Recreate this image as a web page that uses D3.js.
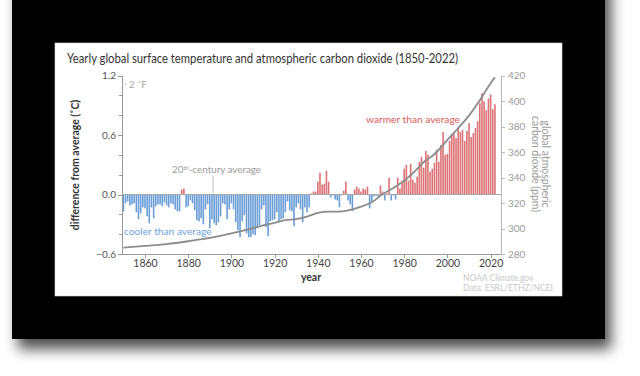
<!DOCTYPE html>
<html>
<head>
<meta charset="utf-8">
<script src="https://cdn.jsdelivr.net/npm/d3@7"></script>
<style>
  body { margin: 0; background: #fff; }
  svg { display: block; font-family: "Lato", "Open Sans", sans-serif; }
  .axis path, .axis line { stroke: #999; shape-rendering: crispEdges; }
  .axis text { font-family: "Lato", sans-serif; }
</style>
</head>
<body>
<div id="chart"></div>
<script>

// Years 1850-2022 (one bar each)
var years = d3.range(1850, 2023);

// Yearly temperature difference from 20th-century average (deg C)
var anomalies = [
  -0.17, -0.09, -0.07, -0.11, -0.10, -0.09, -0.18, -0.25, -0.19, -0.13,
  -0.14, -0.22, -0.29, -0.13, -0.24, -0.12, -0.10, -0.10, -0.12, -0.08,
  -0.11, -0.13, -0.09, -0.10, -0.15, -0.17, -0.17,  0.05,  0.06, -0.13,
  -0.12, -0.06, -0.09, -0.16, -0.26, -0.27, -0.24, -0.30, -0.15, -0.10,
  -0.34, -0.25, -0.29, -0.31, -0.28, -0.22, -0.09, -0.10, -0.25, -0.15,
  -0.09, -0.15, -0.28, -0.36, -0.43, -0.27, -0.21, -0.39, -0.43, -0.43,
  -0.40, -0.41, -0.34, -0.31, -0.15, -0.11, -0.33, -0.42, -0.27, -0.26,
  -0.25, -0.18, -0.27, -0.25, -0.24, -0.18, -0.07, -0.16, -0.17, -0.32,
  -0.13, -0.09, -0.15, -0.28, -0.13, -0.18, -0.13,  0.01,  0.03,  0.03,
   0.13,  0.22,  0.10,  0.11,  0.24,  0.13, -0.03, -0.01, -0.05, -0.06,
  -0.13, -0.01,  0.04,  0.13, -0.06, -0.10, -0.17,  0.05,  0.08,  0.06,
   0.03,  0.06,  0.05,  0.08, -0.14, -0.07, -0.02, -0.01, -0.03,  0.09,
   0.03, -0.06,  0.01,  0.17, -0.06, -0.01, -0.05,  0.17,  0.06,  0.14,
   0.26,  0.30,  0.14,  0.31,  0.15,  0.12,  0.18,  0.33,  0.38,  0.27,
   0.44,  0.40,  0.23,  0.26,  0.32,  0.45,  0.33,  0.50,  0.63,  0.40,
   0.41,  0.54,  0.61,  0.61,  0.57,  0.67,  0.63,  0.65,  0.54,  0.64,
   0.72,  0.58,  0.62,  0.67,  0.74,  0.92,  1.02,  0.94,  0.85,  0.97,
   1.01,  0.86,  0.91
];

// Atmospheric CO2 (ppm)
var co2Years  = [1850, 1860, 1870, 1880, 1890, 1900, 1905, 1910, 1915, 1920, 1925, 1930, 1935, 1940,
                 1945, 1950, 1955, 1960, 1965, 1970, 1975, 1980, 1985, 1990, 1993, 1995, 2000, 2005,
                 2010, 2015, 2020, 2022];
var co2Values = [285.0, 286.3, 287.8, 290.0, 292.6, 296.2, 298.2, 300.3, 302.7, 304.4, 306.5, 307.4, 309.3, 312.2,
                 313.3, 313.3, 314.6, 317.2, 320.6, 326.8, 331.8, 337.5, 345.0, 353.5, 356.9, 360.0, 369.5, 378.8,
                 388.5, 400.5, 414.0, 418.5];

// Tick labels
var yearTicks = [1860, 1880, 1900, 1920, 1940, 1960, 1980, 2000, 2020];
var tempTicks = [-0.6, 0.0, 0.6, 1.2];
var tempMinorTicks = [-0.4, -0.2, 0.2, 0.4, 0.8, 1.0];
var co2Ticks = [280, 300, 320, 340, 360, 380, 400, 420];

var W = 640, H = 376;

var svg = d3.select("#chart").append("svg")
    .attr("width", W)
    .attr("height", H);

// Drop shadow for the black frame
var defs = svg.append("defs");
var shadow = defs.append("filter")
    .attr("id", "shadow")
    .attr("x", "-10%").attr("y", "-10%")
    .attr("width", "130%").attr("height", "130%");
shadow.append("feDropShadow")
    .attr("dx", 6).attr("dy", 10)
    .attr("stdDeviation", 7)
    .attr("flood-color", "#000")
    .attr("flood-opacity", 0.7);

svg.append("rect")
    .attr("x", 12).attr("y", -30)
    .attr("width", 593).attr("height", 369)
    .attr("fill", "#000")
    .attr("filter", "url(#shadow)");

// White chart panel
svg.append("rect")
    .attr("x", 55).attr("y", 43)
    .attr("width", 507).attr("height", 253)
    .attr("fill", "#fff")
    .attr("stroke", "#ddd")
    .attr("stroke-width", 0.6);

// Scales
var plotLeft = 122, plotRight = 501, plotTop = 75.5, plotBottom = 254;

var x = d3.scaleLinear()
    .domain([1850, 2020])
    .range([123.4, 490.6]);
var y = d3.scaleLinear()
    .domain([-0.6, 1.2])
    .range([plotBottom, plotTop]);
var yCo2 = d3.scaleLinear()
    .domain([280, 420])
    .range([plotBottom, plotTop]);

var barWidth = 1.6;

// Title
svg.append("text")
    .attr("x", 67).attr("y", 62.5)
    .attr("textLength", 391)
    .attr("lengthAdjust", "spacingAndGlyphs")
    .style("font-size", "12.5px")
    .style("fill", "#333")
    .text("Yearly global surface temperature and atmospheric carbon dioxide (1850-2022)");

// Bars
var barData = years.map(function(yr, i) { return {year: yr, value: anomalies[i]}; });

svg.append("g").selectAll(".bar")
    .data(barData)
    .enter()
    .append("rect")
    .attr("class", "bar")
    .attr("x", d => x(d.year) - barWidth / 2)
    .attr("width", barWidth)
    .attr("y", d => y(Math.max(0, d.value)))
    .attr("height", d => Math.abs(y(d.value) - y(0)))
    .style("fill", d => d.value >= 0 ? "#dc7275" : "#6a9dd8");

// Zero line
svg.append("line")
    .attr("x1", plotLeft).attr("x2", plotRight)
    .attr("y1", y(0)).attr("y2", y(0))
    .style("stroke", "#a8a8a8")
    .style("stroke-width", 1);

// 20th-century average label + pointer
svg.append("line")
    .attr("x1", x(1891.5)).attr("x2", x(1891.5))
    .attr("y1", 176).attr("y2", y(0))
    .style("stroke", "#b0b0b0")
    .style("stroke-width", 0.8);
var avgLabel = svg.append("text")
    .attr("x", 172).attr("y", 173)
    .style("font-size", "9.8px")
    .style("fill", "#9a9a9a");
avgLabel.append("tspan").text("20");
avgLabel.append("tspan").attr("dy", -3.5).style("font-size", "6px").text("th");
avgLabel.append("tspan").attr("dy", 3.5).text("-century average");

// CO2 line
var co2Line = d3.line()
    .x((d, i) => x(co2Years[i]))
    .y(d => yCo2(d))
    .curve(d3.curveMonotoneX);

svg.append("path")
    .datum(co2Values)
    .attr("d", co2Line)
    .style("fill", "none")
    .style("stroke", "#8c8c8c")
    .style("stroke-width", 1.8);

// Axes
var xAxis = d3.axisBottom(x)
    .tickValues(yearTicks)
    .tickFormat(d3.format("d"))
    .tickSize(4)
    .tickSizeOuter(0)
    .tickPadding(2);
var gx = svg.append("g")
    .attr("class", "axis x-axis")
    .attr("transform", "translate(0," + plotBottom + ")")
    .call(xAxis);
gx.select(".domain").attr("d", "M" + plotLeft + ",0.5H" + plotRight);
gx.selectAll("text").style("font-size", "10.5px").style("fill", "#444");

var yAxis = d3.axisLeft(y)
    .tickValues(tempTicks)
    .tickFormat(d3.format(".1f"))
    .tickSize(4)
    .tickSizeOuter(0)
    .tickPadding(2);
var gy = svg.append("g")
    .attr("class", "axis y-axis")
    .attr("transform", "translate(" + plotLeft + ",0)")
    .call(yAxis);
gy.selectAll("text").style("font-size", "10px").style("fill", "#555");

svg.append("g")
    .attr("class", "axis y-minor")
    .attr("transform", "translate(" + plotLeft + ",0)")
    .call(d3.axisLeft(y).tickValues(tempMinorTicks).tickSize(3).tickFormat(""))
    .select(".domain").remove();

var yAxisRight = d3.axisRight(yCo2)
    .tickValues(co2Ticks)
    .tickSize(4)
    .tickSizeOuter(0)
    .tickPadding(3);
var gr = svg.append("g")
    .attr("class", "axis y-axis-right")
    .attr("transform", "translate(" + plotRight + ",0)")
    .call(yAxisRight);
gr.selectAll("text").style("font-size", "10px").style("fill", "#9a9a9a");
gr.selectAll("line").style("stroke", "#bbb");
gr.select(".domain").style("stroke", "#bbb");

// 2 F marker
svg.append("line")
    .attr("x1", plotLeft).attr("x2", plotLeft + 5)
    .attr("y1", y(10 / 9)).attr("y2", y(10 / 9))
    .style("stroke", "#c8c8c8")
    .style("stroke-dasharray", "2,1");
svg.append("text")
    .attr("x", 129).attr("y", y(10 / 9) + 3.5)
    .style("font-size", "10px")
    .style("fill", "#aaa")
    .text("2 ˚F");

// Axis titles
svg.append("text")
    .attr("transform", "translate(79,165) rotate(-90)")
    .attr("text-anchor", "middle")
    .style("font-size", "10.5px")
    .style("font-weight", "bold")
    .style("fill", "#333")
    .text("difference from average (˚C)");

svg.append("text")
    .attr("x", 311).attr("y", 281)
    .attr("text-anchor", "middle")
    .style("font-size", "10.5px")
    .style("font-weight", "bold")
    .style("fill", "#333")
    .text("year");

var rightTitle = svg.append("text")
    .attr("transform", "translate(542,164) rotate(90)")
    .attr("text-anchor", "middle")
    .style("font-size", "10.5px")
    .style("fill", "#9a9a9a");
rightTitle.append("tspan").attr("x", 0).attr("y", 0).text("global atmospheric");
rightTitle.append("tspan").attr("x", 0).attr("y", 10.5).text("carbon dioxide (ppm)");

// Annotations
svg.append("text")
    .attr("x", 124).attr("y", 235)
    .style("font-size", "10.2px")
    .style("fill", "#6fa2dc")
    .text("cooler than average");

svg.append("text")
    .attr("x", 366).attr("y", 123)
    .style("font-size", "10.2px")
    .style("fill", "#da5b5e")
    .text("warmer than average");

// Credits
svg.append("text")
    .attr("x", 463).attr("y", 281)
    .style("font-size", "8.5px")
    .style("fill", "#c8c8c8")
    .text("NOAA Climate.gov");
svg.append("text")
    .attr("x", 463).attr("y", 291)
    .style("font-size", "8.5px")
    .style("fill", "#c8c8c8")
    .text("Data: ESRL/ETHZ/NCEI");

</script>
</body>
</html>
